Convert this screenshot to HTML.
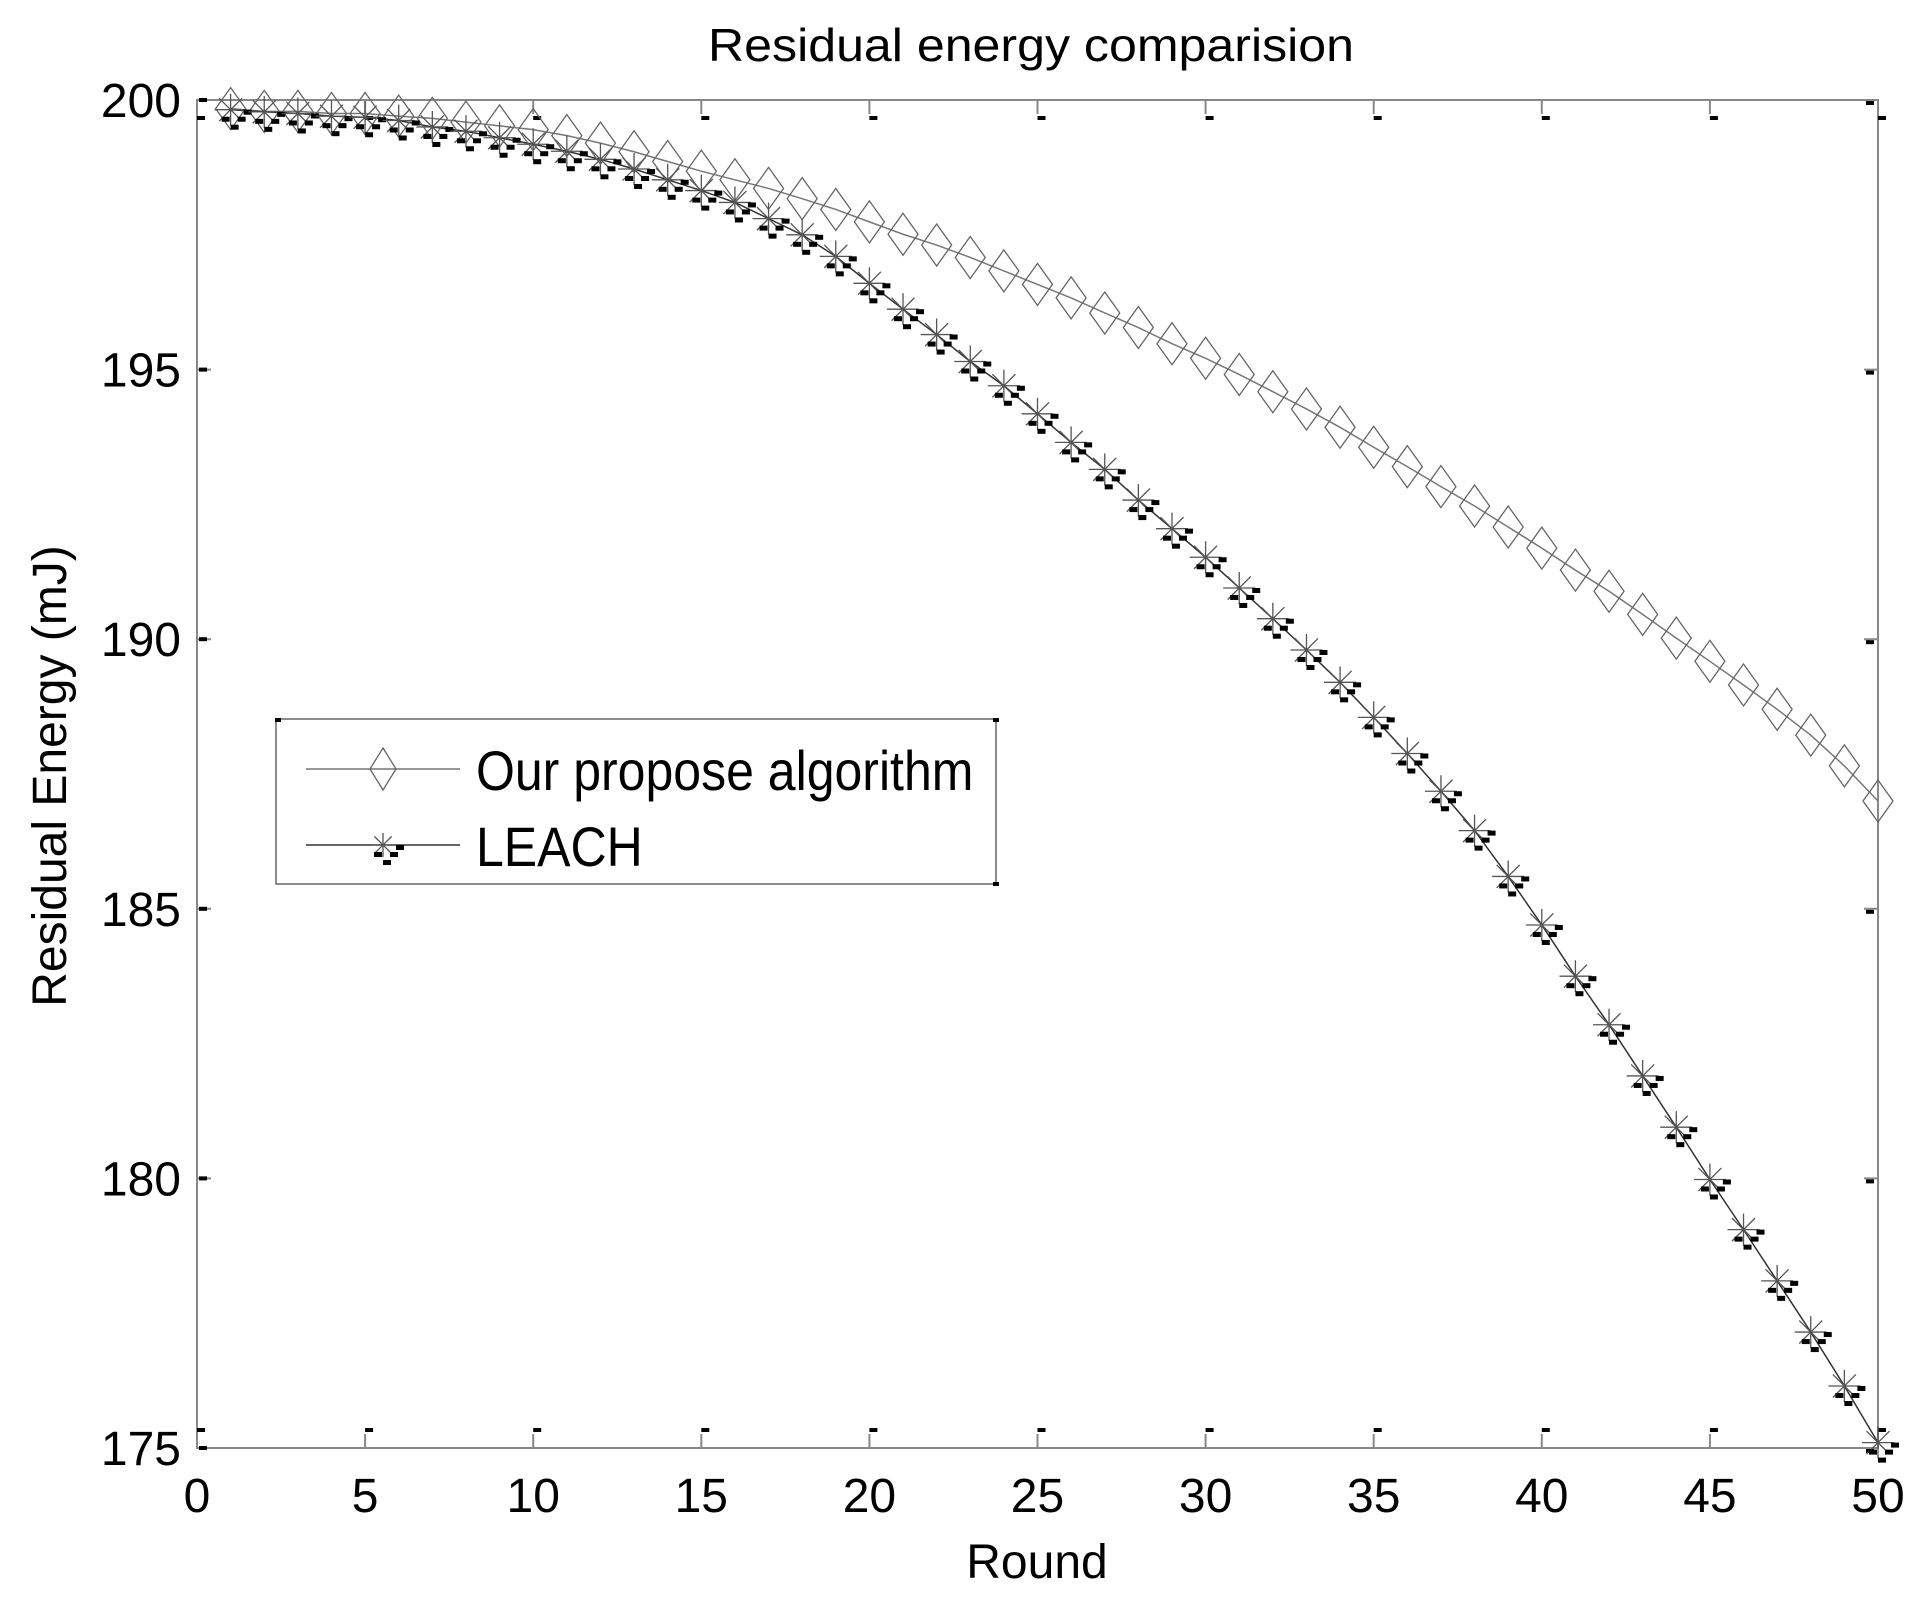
<!DOCTYPE html>
<html><head><meta charset="utf-8"><style>
html,body{margin:0;padding:0;background:#fff;}
svg{display:block;font-family:"Liberation Sans",Arial,sans-serif;}
</style></head><body>
<svg id="chart" width="1930" height="1604" viewBox="0 0 1930 1604" xmlns="http://www.w3.org/2000/svg">
<rect width="1930" height="1604" fill="#fff"/>
<text x="1031" y="61" font-size="46" text-anchor="middle" textLength="646" lengthAdjust="spacingAndGlyphs">Residual energy comparision</text>
<text x="1037" y="1578" font-size="48" text-anchor="middle">Round</text>
<text transform="translate(66,776) rotate(-90)" font-size="48" text-anchor="middle">Residual Energy (mJ)</text>
<g id="axes"></g>
<g id="series"></g>
<g id="legend"></g>
</svg>
<script>
const rounds = [1,2,3,4,5,6,7,8,9,10,11,12,13,14,15,16,17,18,19,20,21,22,23,24,25,26,27,28,29,30,31,32,33,34,35,36,37,38,39,40,41,42,43,44,45,46,47,48,49,50];
const proposedValues = [199.84,199.79,199.79,199.75,199.75,199.70,199.66,199.59,199.52,199.45,199.34,199.20,199.04,198.86,198.68,198.52,198.36,198.17,197.97,197.74,197.51,197.31,197.08,196.83,196.58,196.33,196.05,195.78,195.48,195.21,194.91,194.59,194.27,193.93,193.56,193.20,192.83,192.47,192.08,191.69,191.28,190.89,190.46,190.02,189.59,189.15,188.70,188.22,187.65,187.00];
const leachValues = [199.82,199.78,199.75,199.70,199.68,199.62,199.50,199.42,199.30,199.18,199.05,198.90,198.72,198.52,198.32,198.10,197.80,197.50,197.10,196.60,196.12,195.65,195.15,194.70,194.18,193.65,193.15,192.58,192.05,191.52,190.95,190.38,189.80,189.20,188.55,187.88,187.18,186.45,185.60,184.70,183.75,182.85,181.90,180.95,179.98,179.05,178.10,177.15,176.15,175.10];
const xTicks = [0,5,10,15,20,25,30,35,40,45,50];
const yTicks = [175,180,185,190,195,200];
const seriesNames = ["Our propose algorithm","LEACH"];

const NS="http://www.w3.org/2000/svg";
const L=197,R=1878,T=100,B=1448;
const xMin=0,xMax=50,yMin=175,yMax=200;
function sx(v){return L+(v-xMin)/(xMax-xMin)*(R-L);}
function sy(v){return B-(v-yMin)/(yMax-yMin)*(B-T);}
function mk(tag,attrs,parent){const e=document.createElementNS(NS,tag);for(const k in attrs)e.setAttribute(k,attrs[k]);parent.appendChild(e);return e;}

const axes=document.getElementById('axes');
const frame=mk('rect',{x:L,y:T,width:R-L,height:B-T,fill:'none',stroke:'#888','stroke-width':2},axes);



xTicks.forEach(t=>{
  const x=sx(t);
  const tk=mk('path',{d:`M${x} ${B}v-14M${x} ${T}v14`,stroke:'#888','stroke-width':2,fill:'none'},axes);
  
  
  mk('rect',{x:x,y:B-20,width:8,height:4,fill:'#000'},axes);
  mk('rect',{x:x,y:T+16,width:8,height:4,fill:'#000'},axes);
  const lb=mk('text',{x:x,y:1512,'font-size':48,'text-anchor':'middle'},axes);
  lb.textContent=t;
  
  
});
yTicks.forEach(t=>{
  const y=sy(t);
  const tk=mk('path',{d:`M${L} ${y}h14M${R} ${y}h-14`,stroke:'#888','stroke-width':2,fill:'none'},axes);
  
  
  mk('rect',{x:L+2,y:y-2,width:8,height:4,fill:'#000'},axes);
  mk('rect',{x:R-12,y:y+1,width:8,height:4,fill:'#000'},axes);
  const lb=mk('text',{x:181,y:y+17,'font-size':48,'text-anchor':'end'},axes);
  lb.textContent=t;
  
  
});

const series=document.getElementById('series');
function diamond(cx,cy,hw,hh,parent){
  return mk('path',{d:`M${cx} ${cy-hh}L${cx+hw} ${cy}L${cx} ${cy+hh}L${cx-hw} ${cy}Z`,fill:'none',stroke:'#666','stroke-width':1.3},parent);
}
function star(cx,cy,r,parent){
  const g=mk('g',{},parent);
  const d=r*0.72;
  mk('path',{d:`M${cx-r} ${cy}h${2*r}M${cx} ${cy-r}v${2*r}M${cx-d} ${cy-d}L${cx+d} ${cy+d}M${cx-d} ${cy+d}L${cx+d} ${cy-d}`,stroke:'#555','stroke-width':1.3,fill:'none'},g);
  [[13,0],[-9,7],[7,7],[0,15]].forEach(o=>mk('rect',{x:cx+o[0],y:cy+o[1],width:8,height:5,fill:'#000'},g));
  return g;
}
const p1=mk('polyline',{points:rounds.map((r,i)=>sx(r)+','+sy(proposedValues[i])).join(' '),fill:'none',stroke:'#777','stroke-width':1.5},series);


const p2=mk('polyline',{points:rounds.map((r,i)=>sx(r)+','+sy(leachValues[i])).join(' '),fill:'none',stroke:'#333','stroke-width':1.5},series);


rounds.forEach((r,i)=>{
  const m=diamond(sx(r),sy(proposedValues[i]),15,21,series);
  
  
});
rounds.forEach((r,i)=>{
  const m=star(sx(r),sy(leachValues[i]),16,series);
  
  
});

const lg=document.getElementById('legend');
const box=mk('rect',{x:276,y:719,width:720,height:165,fill:'#fff',stroke:'#666','stroke-width':1.5},lg);


mk('rect',{x:275,y:718,width:6,height:4,fill:'#000'},lg);
mk('rect',{x:993,y:718,width:6,height:4,fill:'#000'},lg);
mk('rect',{x:993,y:882,width:6,height:4,fill:'#000'},lg);
const rows=[769,845];
seriesNames.forEach((n,i)=>{
  const g=mk('g',{},lg);
  
  
  mk('line',{x1:306,y1:rows[i],x2:460,y2:rows[i],stroke:i?'#333':'#777','stroke-width':1.5},g);
  if(i===0) diamond(383,rows[i],13,21,g); else star(383,rows[i],12,g);
  const t=mk('text',{x:476,y:0,'font-size':50,transform:`translate(0,${rows[i]+21}) scale(1,1.12)`},g);
  t.textContent=n;
});
</script>
</body></html>
